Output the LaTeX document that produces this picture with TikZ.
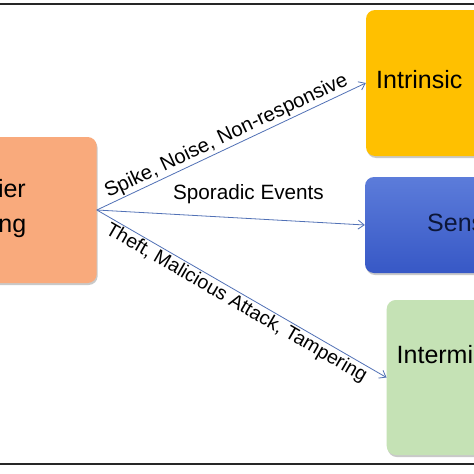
\documentclass[tikz,border=0pt]{standalone}
\usepackage{fontspec}
\setmainfont{Liberation Sans}
\usetikzlibrary{arrows.meta,shadows}
\definecolor{orangebox}{HTML}{F9AA7C}
\definecolor{yellowbox}{HTML}{FFC000}
\definecolor{bluetop}{HTML}{5C7CDA}
\definecolor{bluebot}{HTML}{3758C6}
\definecolor{greenbox}{HTML}{C5E2B5}
\definecolor{arrowblue}{HTML}{5171B6}
\definecolor{navytext}{HTML}{0C1638}
\tikzset{
  box/.style={rectangle, rounded corners=9pt, draw=none, inner sep=0pt,
    drop shadow={shadow xshift=1pt, shadow yshift=-2pt, opacity=0.35, fill=black!60}},
  boxtext/.style={anchor=base west, inner sep=0pt, font=\fontsize{25}{28}\selectfont},
  arr/.style={draw=arrowblue, line width=0.8pt, -{Straight Barb[length=6pt,width=9pt,line width=0.8pt]}},
  lbl/.style={font=\fontsize{20.7}{24}\selectfont, text=black},
  frameline/.style={line width=2pt, draw=black!85}
}
\begin{document}
\begin{tikzpicture}[x=1pt,y=-1pt]
\useasboundingbox (0,0) rectangle (474,474);
\clip (0,0) rectangle (474,474);
\fill[white] (0,0) rectangle (474,474);
% frame lines
\draw[frameline] (0,4.3) -- (474,4.3);
\draw[frameline] (0,463.7) -- (474,463.7);
% boxes
\node[box, fill=orangebox, minimum width=156.7pt, minimum height=146pt] (src) at (18.3,210) {};
\node[box, fill=yellowbox, minimum width=164pt, minimum height=146pt] (yel) at (448,83) {};
\node[box, top color=bluetop, bottom color=bluebot, minimum width=164pt, minimum height=96pt] (blu) at (447,225) {};
\node[box, fill=greenbox, minimum width=164pt, minimum height=155pt] (grn) at (468.7,377.5) {};
% box texts
\node[boxtext, anchor=base east] (t1) at (26,197) {ier};
\node[boxtext, anchor=base east] (t2) at (26.5,232) {ng};
\node[boxtext] (t3) at (376,88) {Intrinsic};
\node[boxtext, text=navytext] (t4) at (427,231) {Sens};
\node[boxtext] (t5) at (396.5,363.3) {Intermi};
% connectors
\draw[arr] (src.east) -- node[lbl, font=\fontsize{20.2}{24}\selectfont, sloped, above, inner sep=1.5pt, pos=0.5] (l1) {Spike, Noise, Non-responsive} (yel.west);
\draw[arr] (src.east) -- node[lbl, above=12pt, inner sep=2pt, pos=0.566] (l2) {Sporadic Events} (blu.west);
\draw[arr] (src.east) -- node[lbl, font=\fontsize{19.5}{23}\selectfont, sloped, below, inner sep=1.5pt, pos=0.5] (l3) {Theft, Malicious Attack, Tampering} (grn.west);
\end{tikzpicture}
\end{document}
